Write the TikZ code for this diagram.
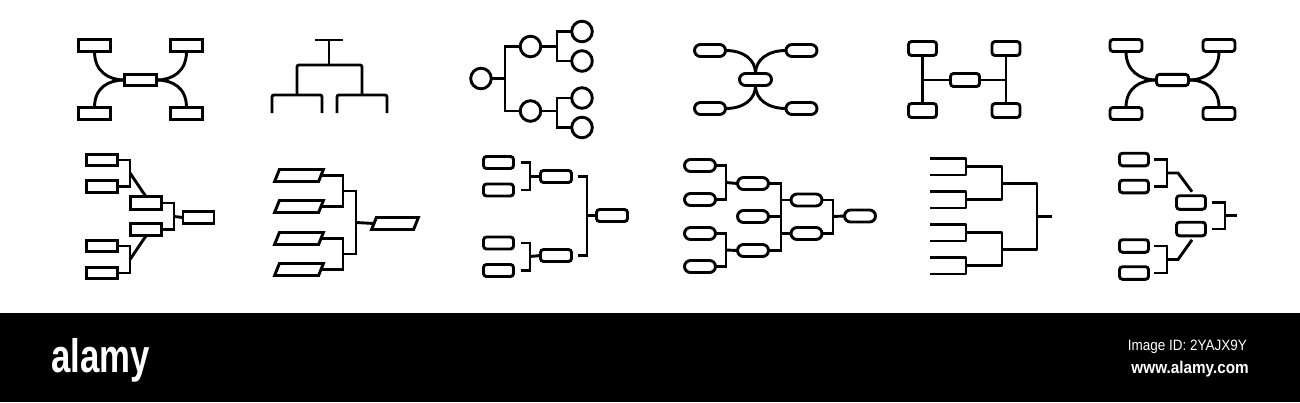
\documentclass[tikz,border=0pt]{standalone}
\usepackage{fontspec}
\usetikzlibrary{calc}
\newfontfamily\logofont[FakeStretch=0.74]{Liberation Sans}
\newfontfamily\idfont[FakeStretch=0.9]{Liberation Sans}
\begin{document}
\begin{tikzpicture}[x=1pt,y=-1pt,
  wire/.style={line width=2.9pt},
  bx/.style={draw, line width=2.9pt, rectangle, inner sep=0pt, outer sep=0pt, minimum width=31pt, minimum height=12pt},
  rbx/.style={bx, rounded corners=3pt},
  pill/.style={bx, rounded corners=6pt},
  circ/.style={draw, line width=2.9pt, circle, inner sep=0pt, outer sep=0pt, minimum size=20.6pt},
  para/.style={bx, minimum width=44pt, xslant=0.4, transform shape}]
\useasboundingbox (0,0) rectangle (1300,402);

% ---------- icon 1 : X with rectangles
\node[bx,minimum width=32pt] (a1) at (94.5,45.5) {};
\node[bx,minimum width=32pt] (a2) at (186.5,45.5) {};
\node[bx,minimum width=32pt,minimum height=11.2pt] (ac) at (140.5,80) {};
\node[bx,minimum width=32pt] (a3) at (94.5,113.5) {};
\node[bx,minimum width=32pt] (a4) at (186.5,113.5) {};
\draw[wire] (a1.south) .. controls +(0,20) and +(-16,0) .. (ac.west);
\draw[wire] (a3.north) .. controls +(0,-20) and +(-16,0) .. (ac.west);
\draw[wire] (a2.south) .. controls +(0,20) and +(16,0) .. (ac.east);
\draw[wire] (a4.north) .. controls +(0,-20) and +(16,0) .. (ac.east);

% ---------- icon 2 : tree
\coordinate (t0) at (329,40);
\coordinate (t1) at (329,65);
\coordinate (tl) at (297,95);
\coordinate (tr) at (362,95);
\draw[wire] (315,40) -- (343,40);
\draw[wire] (t0) -- (t1);
\draw[wire, rounded corners=2pt] (tl) -- (297,65) -- (362,65) -- (tr);
\draw[wire, rounded corners=2pt] (272,113) -- (272,95) -- (322,95) -- (322,113);
\draw[wire, rounded corners=2pt] (337,113) -- (337,95) -- (387,95) -- (387,113);

% ---------- icon 3 : circles
\node[circ] (c0) at (481,78.5) {};
\node[circ] (c1) at (530.5,46.5) {};
\node[circ] (c2) at (530.5,111) {};
\node[circ] (l1) at (582,31.5) {};
\node[circ] (l2) at (582,61) {};
\node[circ] (l3) at (582,98) {};
\node[circ] (l4) at (582,127.5) {};
\coordinate (cb0) at (505,78.5);
\coordinate (cb1) at (557,46.5);
\coordinate (cb2) at (557,111);
\draw[wire] (c0.east) -- (cb0);
\draw[wire] (c1.west) -| (cb0) |- (c2.west);
\draw[wire] (c1.east) -- (cb1);
\draw[wire] (l1.west) -| (cb1) |- (l2.west);
\draw[wire] (c2.east) -- (cb2);
\draw[wire] (l3.west) -| (cb2) |- (l4.west);

% ---------- icon 4 : pills X
\node[pill] (d1) at (710,50.5) {};
\node[pill] (d2) at (801.5,50.5) {};
\node[pill,minimum width=32pt] (dc) at (755.5,79.5) {};
\node[pill] (d3) at (710,108.5) {};
\node[pill] (d4) at (801.5,108.5) {};
\draw[wire] (d1.east) .. controls +(18,0) and +(0,-14) .. (dc.north);
\draw[wire] (d2.west) .. controls +(-18,0) and +(0,-14) .. (dc.north);
\draw[wire] (d3.east) .. controls +(18,0) and +(0,14) .. (dc.south);
\draw[wire] (d4.west) .. controls +(-18,0) and +(0,14) .. (dc.south);

% ---------- icon 5 : H
\node[rbx,minimum width=28pt,minimum height=14pt] (h1) at (922.5,48.5) {};
\node[rbx,minimum width=28pt,minimum height=14pt] (h2) at (1006,48.5) {};
\node[rbx,minimum width=28pt,minimum height=14pt] (h3) at (922.5,110.5) {};
\node[rbx,minimum width=28pt,minimum height=14pt] (h4) at (1006,110.5) {};
\node[rbx,minimum width=29pt,minimum height=13pt] (hc) at (965,80) {};
\draw[wire] (h1.south) -- (h3.north);
\draw[wire] (h2.south) -- (h4.north);
\draw[wire] (hc.west) -- (hc.west -| h1.south);
\draw[wire] (hc.east) -- (hc.east -| h2.south);

% ---------- icon 6 : X with rounded rectangles
\node[rbx,minimum width=32pt] (e1) at (1126,45.5) {};
\node[rbx,minimum width=32pt] (e2) at (1219,45.5) {};
\node[rbx,minimum width=32pt,minimum height=11.2pt] (ec) at (1172.5,80) {};
\node[rbx,minimum width=32pt] (e3) at (1126,113.5) {};
\node[rbx,minimum width=32pt] (e4) at (1219,113.5) {};
\draw[wire] (e1.south) .. controls +(0,20) and +(-16,0) .. (ec.west);
\draw[wire] (e3.north) .. controls +(0,-20) and +(-16,0) .. (ec.west);
\draw[wire] (e2.south) .. controls +(0,20) and +(16,0) .. (ec.east);
\draw[wire] (e4.north) .. controls +(0,-20) and +(16,0) .. (ec.east);

% ---------- icon 7 : bracket with diagonals
\node[bx,minimum height=11.6pt] (g1) at (102,160) {};
\node[bx,minimum height=11.6pt] (g2) at (102,186.5) {};
\node[bx,minimum height=11.6pt] (g3) at (102,246) {};
\node[bx,minimum height=11.6pt] (g4) at (102,273) {};
\node[bx,minimum height=12.6pt] (gm1) at (146,203) {};
\node[bx,minimum height=12.6pt] (gm2) at (146,229.5) {};
\node[bx] (gf) at (198.5,217.5) {};
\coordinate (gb1) at (130,173);
\coordinate (gb2) at (130,259.5);
\coordinate (gb3) at (174,216.5);
\draw[wire] (g1.east) -| (gb1) |- (g2.east);
\draw[wire] (g3.east) -| (gb2) |- (g4.east);
\draw[wire] (gb1) -- (gm1.north);
\draw[wire] (gb2) -- (gm2.south);
\draw[wire] (gm1.east) -| (gb3) |- (gm2.east);
\draw[wire] (gb3) -- (gf.west);

% ---------- icon 8 : parallelograms
\node[para] (p1) at (299,175.5) {};
\node[para] (p2) at (299,206.5) {};
\node[para] (p3) at (299,238.5) {};
\node[para] (p4) at (299,269.5) {};
\node[para,minimum width=42pt] (pf) at (395,223.5) {};
\coordinate (pb1) at (343,191);
\coordinate (pb2) at (343,254);
\coordinate (pb3) at (356,222.5);
\draw[wire] (p1.east) -| (pb1) |- (p2.east);
\draw[wire] (p3.east) -| (pb2) |- (p4.east);
\draw[wire] (pb1) -| (pb3) |- (pb2);
\draw[wire] (pb3) -- (pf.west);

% ---------- icon 9 : rounded bracket
\node[rbx,minimum width=30pt] (k1) at (498.5,162.5) {};
\node[rbx,minimum width=30pt] (k2) at (498.5,190) {};
\node[rbx,minimum width=30pt] (k3) at (498.5,243) {};
\node[rbx,minimum width=30pt] (k4) at (498.5,270.5) {};
\node[rbx] (km1) at (556,176.5) {};
\node[rbx] (km2) at (556,255.5) {};
\node[rbx] (kf) at (612,215.5) {};
\coordinate (kb1) at (530,176.5);
\coordinate (kb2) at (530,256.5);
\coordinate (kb3) at (587,215.5);
\draw[wire] ([xshift=7pt]k1.east) -| (kb1) |- ([xshift=7pt]k2.east);
\draw[wire] ([xshift=7pt]k3.east) -| (kb2) |- ([xshift=7pt]k4.east);
\draw[wire] (kb1) -- (km1.west);
\draw[wire] (kb2) -- (km2.west);
\draw[wire] ([xshift=6pt]km1.east) -| (kb3) |- ([xshift=6pt]km2.east);
\draw[wire] (kb3) -- (kf.west);

% ---------- icon 10 : pill tournament
\node[pill] (q1) at (700,165.5) {};
\node[pill] (q2) at (700,199.5) {};
\node[pill] (q3) at (700,233.5) {};
\node[pill] (q4) at (700,266.5) {};
\node[pill] (qm1) at (753,183.5) {};
\node[pill] (qm2) at (753,216.5) {};
\node[pill] (qm3) at (753,250.5) {};
\node[pill] (qn1) at (806.5,200) {};
\node[pill] (qn2) at (806.5,233.5) {};
\node[pill] (qf) at (860,216) {};
\coordinate (qb1) at (726,182.5);
\coordinate (qb2) at (726,250);
\coordinate (qb3) at (781,216.5);
\coordinate (qb4) at (833,216.5);
\draw[wire] (q1.east) -| (qb1) |- (q2.east);
\draw[wire] (q3.east) -| (qb2) |- (q4.east);
\draw[wire] (qb1) -- (qm1.west);
\draw[wire] (qb2) -- (qm3.west);
\draw[wire] (qm1.east) -| (qb3) |- (qm3.east);
\draw[wire] (qm2.east) -- (qb3);
\draw[wire] (qn1.west) -- (qn1.west -| qb3);
\draw[wire] (qn2.west) -- (qn2.west -| qb3);
\draw[wire] (qn1.east) -| (qb4) |- (qn2.east);
\draw[wire] (qb4) -- (qf.west);

% ---------- icon 11 : line bracket
\coordinate (s1) at (930,158.5);
\coordinate (s2) at (930,175);
\coordinate (s3) at (930,191.5);
\coordinate (s4) at (930,208);
\coordinate (s5) at (930,224.5);
\coordinate (s6) at (930,241);
\coordinate (s7) at (930,257.5);
\coordinate (s8) at (930,274);
\coordinate (sf) at (1052,216.25);
\begin{scope}[wire, line join=round]
\draw (s1) -- (966,158.5) -- (966,175) -- (s2);
\draw (s3) -- (966,191.5) -- (966,208) -- (s4);
\draw (s5) -- (966,224.5) -- (966,241) -- (s6);
\draw (s7) -- (966,257.5) -- (966,274) -- (s8);
\draw (966,166.75) -- (1002,166.75) -- (1002,199.75) -- (966,199.75);
\draw (966,232.75) -- (1002,232.75) -- (1002,265.75) -- (966,265.75);
\draw (1002,183.25) -- (1037,183.25) -- (1037,249.25) -- (1002,249.25);
\draw (1037,216.25) -- (sf);
\end{scope}

% ---------- icon 12 : rounded with diagonals
\node[rbx,minimum width=29pt,minimum height=12.6pt] (u1) at (1134,159.5) {};
\node[rbx,minimum width=29pt,minimum height=12.6pt] (u2) at (1134,186.5) {};
\node[rbx,minimum width=29pt,minimum height=12.6pt] (u3) at (1134,246) {};
\node[rbx,minimum width=29pt,minimum height=12.6pt] (u4) at (1134,273) {};
\node[rbx,minimum width=29pt,minimum height=13.6pt] (um1) at (1191,202.5) {};
\node[rbx,minimum width=29pt,minimum height=13.6pt] (um2) at (1191,229) {};
\coordinate (ub1) at (1167,173);
\coordinate (ub2) at (1167,259.5);
\coordinate (ub3) at (1225,215.75);
\coordinate (uf) at (1237,215.75);
\draw[wire] ([xshift=5pt]u1.east) -| (ub1) |- ([xshift=5pt]u2.east);
\draw[wire] ([xshift=5pt]u3.east) -| (ub2) |- ([xshift=5pt]u4.east);
\draw[wire] (ub1) -- ++(11,0) -- ($(um1.north)+(1,-4)$);
\draw[wire] (ub2) -- ++(11,0) -- ($(um2.south)+(1,4)$);
\draw[wire] ([xshift=6pt]um1.east) -| (ub3) |- ([xshift=6pt]um2.east);
\draw[wire] (ub3) -- (uf);

% ---------- watermark bar
\fill[black] (0,313) rectangle (1300,402);
\node[anchor=base west, text=white, inner sep=0pt, font=\logofont\bfseries\fontsize{47}{47}\selectfont] (logo) at (51,372) {alamy};
\node[anchor=base east, text=white, inner sep=0pt, font=\idfont\fontsize{15}{15}\selectfont] (imgid) at (1247,350) {Image ID: 2YAJX9Y};
\node[anchor=base east, text=white, inner sep=0pt, font=\idfont\bfseries\fontsize{17}{17}\selectfont] (www) at (1249,373) {www.alamy.com};
\end{tikzpicture}
\end{document}
